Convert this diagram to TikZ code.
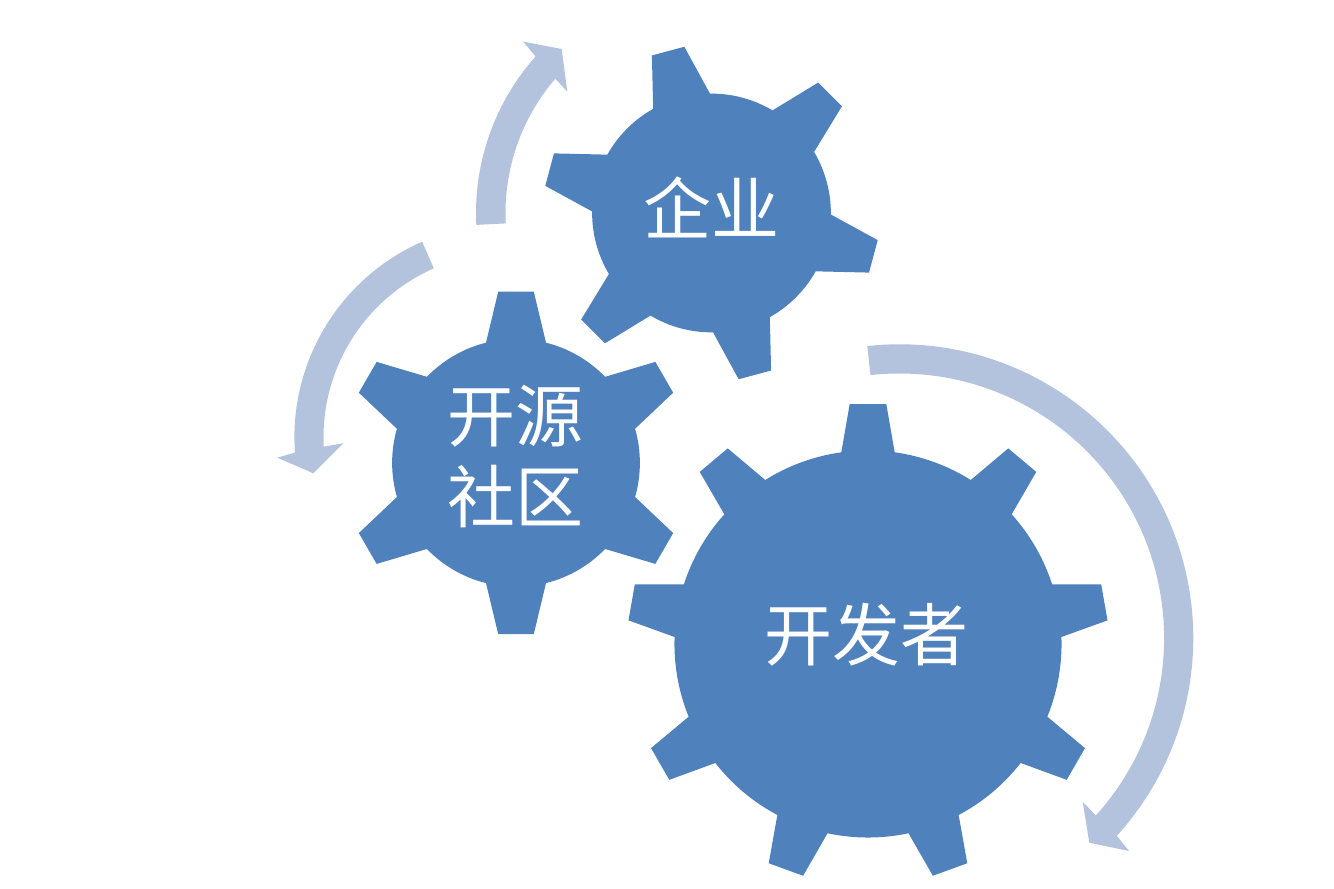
\documentclass[tikz,border=0pt]{standalone}
\usepackage{fontspec}
\newfontfamily\cjk{Noto Sans CJK SC}
\definecolor{gearblue}{HTML}{4F81BD}
\definecolor{arrowblue}{HTML}{B3C3DD}
\tikzset{
  gearfill/.style={fill=gearblue},
  arrowfill/.style={fill=arrowblue},
  lbl/.style={text=white, font=\cjk\fontsize{68}{81}\selectfont, align=center, inner sep=0pt}
}
% cx cy n theta0 rt wt ab wb
\newcommand\drawgearshape[8]{%
  \pgfmathsetmacro\gA{atan(#6/#5)}%
  \pgfmathsetmacro\gRt{veclen(#5,#6)}%
  \pgfmathsetmacro\gB{atan(#8/#7)}%
  \pgfmathsetmacro\gR{veclen(#7,#8)}%
  \pgfmathsetmacro\gStep{360/#3}%
  \pgfmathtruncatemacro\gLast{#3-1}%
  \fill[gearfill, shift={(#1,#2)}] ({#4-\gB}:\gR pt)
    \foreach \k in {0,...,\gLast} {
      -- ({#4+\k*\gStep-\gA}:\gRt pt)
      -- ({#4+\k*\gStep+\gA}:\gRt pt)
      -- ({#4+\k*\gStep+\gB}:\gR pt)
      arc[start angle={#4+\k*\gStep+\gB}, end angle={#4+(\k+1)*\gStep-\gB}, radius=\gR pt]
    } -- cycle;
}
\begin{document}
\begin{tikzpicture}[x=1pt,y=1pt]
\useasboundingbox (0,0) rectangle (1334,889);
% arrows
\fill[arrowfill] ([shift={(711.5,676)}]182.9:235.5pt)
  arc[start angle=182.9, end angle=138.35, radius=235.5pt]
  -- (523.3,847.3) -- (561.7,840) -- (567.3,797.3)
  -- ([shift={(711.5,676)}]139.3:206pt)
  arc[start angle=139.3, end angle=182.9, radius=206pt] -- cycle;
\fill[arrowfill] ([shift={(508,451.7)}]113.7:213.6pt)
  arc[start angle=113.7, end angle=184.1, radius=213.6pt]
  -- (277.3,431.3) -- (313.3,415.7) -- (343.3,445.7)
  -- ([shift={(508,451.7)}]182.9:184.5pt)
  arc[start angle=182.9, end angle=113.7, radius=184.5pt] -- cycle;
\fill[arrowfill] ([shift={(899.5,250.9)}]96.3:293.8pt)
  arc[start angle=96.3, end angle=-42.3, radius=293.8pt]
  -- (1129,38) -- (1089.3,46.3) -- (1082.7,87.3)
  -- ([shift={(899.5,250.9)}]-42.1:264.6pt)
  arc[start angle=-42.1, end angle=96.3, radius=264.6pt] -- cycle;
% gears
\drawgearshape{868}{245}{9}{90}{240}{18.3}{191.7}{26.7}
\drawgearshape{516}{426.1}{6}{90}{171.2}{17.8}{120.2}{30}
\drawgearshape{711.5}{676}{6}{105}{167.6}{16.8}{115.7}{29.4}
% labels
\node[lbl] (qiye) at (711,682) {企业};
\node[lbl] (kaiyuan) at (515,432) {开源\\社区};
\node[lbl] (kaifa) at (866,254) {开发者};
\end{tikzpicture}
\end{document}
